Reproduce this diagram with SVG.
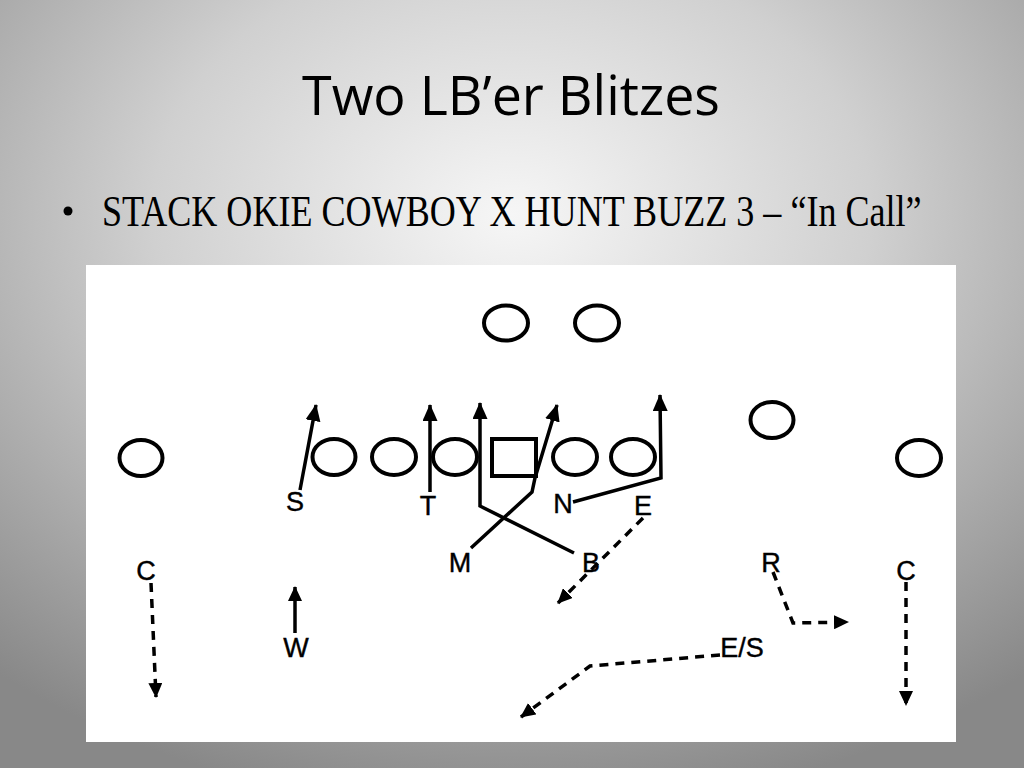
<svg xmlns="http://www.w3.org/2000/svg" width="1024" height="768" viewBox="0 0 1024 768">
<defs>
<radialGradient id="bg" cx="50%" cy="28%" r="78%" fx="50%" fy="28%">
<stop offset="0" stop-color="#f6f6f6"/>
<stop offset="0.45" stop-color="#d0d0d0"/>
<stop offset="1" stop-color="#888888"/>
</radialGradient>
<marker id="ah" viewBox="0 0 17 15" refX="16" refY="7.5" markerWidth="17" markerHeight="15" orient="auto" markerUnits="userSpaceOnUse">
<path d="M0,0 L17,7.5 L0,15 z" fill="#000"/>
</marker>
<marker id="ahs" viewBox="0 0 15 14" refX="14" refY="7" markerWidth="15" markerHeight="14" orient="auto" markerUnits="userSpaceOnUse">
<path d="M0,0 L15,7 L0,14 z" fill="#000"/>
</marker>
</defs>
<style>
.pl{fill:none;stroke:#000;stroke-width:4}
.ln{fill:none;stroke:#000;stroke-width:3.5}
.ds{fill:none;stroke:#000;stroke-width:3.5;stroke-dasharray:9 7}
.lb{font-family:"Liberation Sans",Arial,sans-serif;font-size:27px;fill:#000;stroke:#000;stroke-width:0.4;text-anchor:middle}
</style>
<rect x="0" y="0" width="1024" height="768" fill="url(#bg)"/>
<text x="511" y="115" font-family="Open Sans,Lato,sans-serif" font-size="54" text-anchor="middle" fill="#000" textLength="418" lengthAdjust="spacingAndGlyphs">Two LB’er Blitzes</text>
<circle cx="68" cy="211" r="4.5" fill="#000"/>
<text transform="translate(102,226) scale(0.86,1)" x="0" y="0" font-family="Liberation Serif,serif" font-size="44" fill="#000" textLength="953" lengthAdjust="spacingAndGlyphs">STACK OKIE COWBOY X HUNT BUZZ 3 – “In Call”</text>
<rect x="86" y="265" width="870" height="477" fill="#ffffff"/>
<g id="players">
<g id="qb-back1"><ellipse class="pl" cx="506" cy="323" rx="22" ry="17.5"/></g>
<g id="qb-back2"><ellipse class="pl" cx="597" cy="323" rx="22" ry="17.5"/></g>
<g id="wr-left"><ellipse class="pl" cx="141" cy="458" rx="21.5" ry="18"/></g>
<g id="ol1"><ellipse class="pl" cx="334" cy="457" rx="21.5" ry="18"/></g>
<g id="ol2"><ellipse class="pl" cx="394" cy="457" rx="22" ry="18"/></g>
<g id="ol3"><ellipse class="pl" cx="455" cy="457" rx="22" ry="18"/></g>
<g id="center"><rect class="pl" x="492" y="439" width="44" height="37"/></g>
<g id="ol4"><ellipse class="pl" cx="575" cy="457" rx="22" ry="18"/></g>
<g id="ol5"><ellipse class="pl" cx="633" cy="457" rx="22" ry="18"/></g>
<g id="slot"><ellipse class="pl" cx="772" cy="420" rx="21.5" ry="18"/></g>
<g id="wr-right"><ellipse class="pl" cx="919" cy="458" rx="22" ry="18"/></g>
</g>
<g id="connectors">
<path class="ln" d="M300,490 L316,405" marker-end="url(#ah)"/>
<path class="ln" d="M430,492 L430,405" marker-end="url(#ah)"/>
<path class="ln" d="M574,553 L480,506 L480,403" marker-end="url(#ah)"/>
<path class="ln" d="M471,548 L532,492 L535,478 L557,405" marker-end="url(#ah)"/>
<path class="ln" d="M573,502 L661,478 L660,395" marker-end="url(#ah)"/>
<path class="ln" d="M295,633 L295,587" marker-end="url(#ahs)"/>
<path class="ds" d="M643,518 L558,603" marker-end="url(#ahs)"/>
<path class="ds" d="M151,583 L156,697" marker-end="url(#ahs)"/>
<path class="ds" d="M773,572 L793,623 L848,622" marker-end="url(#ahs)"/>
<path class="ds" d="M906,582 L906,705" marker-end="url(#ahs)"/>
<path class="ds" d="M720,655 L590,666 L521,717" marker-end="url(#ahs)"/>
</g>
<g id="labels">
<g id="lbl-S"><text class="lb" x="295" y="511">S</text></g>
<g id="lbl-T"><text class="lb" x="428" y="515">T</text></g>
<g id="lbl-N"><text class="lb" x="563" y="513">N</text></g>
<g id="lbl-E"><text class="lb" x="643" y="515">E</text></g>
<g id="lbl-M"><text class="lb" x="460" y="572">M</text></g>
<g id="lbl-B"><text class="lb" x="591" y="572">B</text></g>
<g id="lbl-C1"><text class="lb" x="146" y="580">C</text></g>
<g id="lbl-W"><text class="lb" x="296" y="657">W</text></g>
<g id="lbl-R"><text class="lb" x="771" y="572">R</text></g>
<g id="lbl-C2"><text class="lb" x="906" y="580">C</text></g>
<g id="lbl-ES"><text class="lb" x="742" y="657">E/S</text></g>
</g>
</svg>
